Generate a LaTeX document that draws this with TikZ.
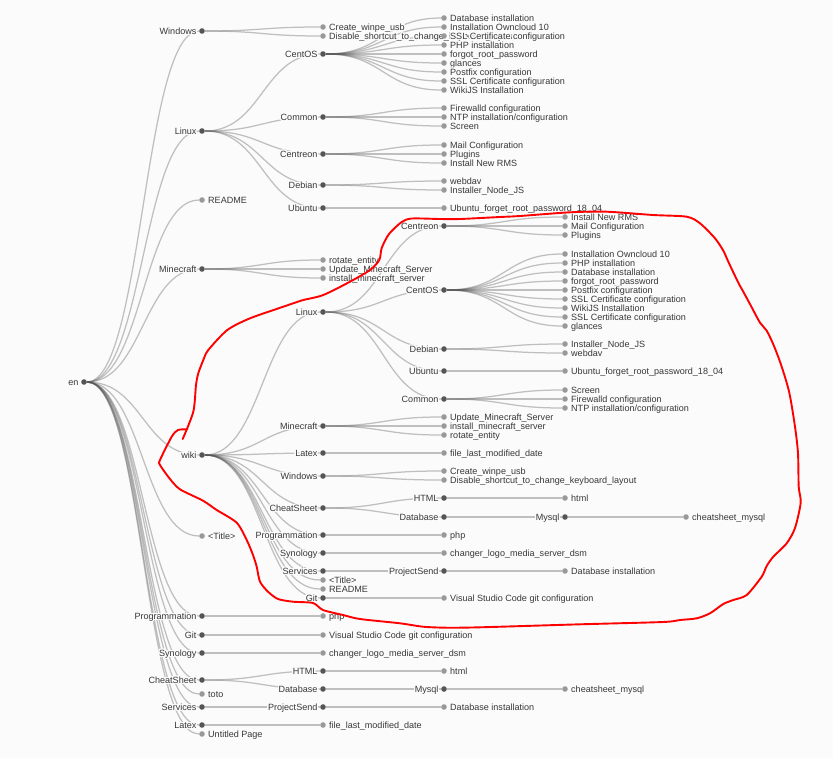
\documentclass[tikz,border=0pt]{standalone}
\usepackage{fontspec}
\usepackage[copies]{contour}
\usetikzlibrary{calc}
\setmainfont{Liberation Sans}
\contourlength{1.4pt}
\contournumber{16}
\definecolor{paper}{HTML}{FBFBFB}
\definecolor{inner}{HTML}{555555}
\definecolor{outer}{HTML}{999999}
\pgfdeclarelayer{paperlayer}
\pgfdeclarelayer{links}
\pgfsetlayers{paperlayer,links,main}
\tikzstyle{vertex}=[circle,minimum size=5.6pt,inner sep=0pt]
\tikzstyle{parent vertex}=[vertex,fill=inner]
\tikzstyle{leaf vertex}=[vertex,fill=outer]
\tikzstyle{caption}=[inner sep=0pt,text=black!78,font=\fontsize{9.05}{9}\selectfont,text height=8.9pt,text depth=2pt]
\tikzstyle{parent label}=[caption,left=5.4pt]
\tikzstyle{leaf label}=[caption,right=6pt]
\tikzstyle{link}=[draw=inner,draw opacity=0.36,line width=1.25pt,
  to path={let \p1=(\tikztostart),\p2=(\tikztotarget) in
    .. controls ({0.5*(\x1+\x2)},\y1) and ({0.5*(\x1+\x2)},\y2) .. (\tikztotarget)}]
\tikzstyle{scribble}=[draw=red,line width=1.9pt,line join=round,line cap=round]

\begin{document}
\begin{tikzpicture}[x=1pt,y=-1pt]
      \begin{pgfonlayer}{paperlayer}
        \fill[paper] (0,0) rectangle (833,758);
      \end{pgfonlayer}
      \useasboundingbox (0,0) rectangle (833,758);
      %nodes
      \foreach \nodename/\x/\y/\kind/\caption in {
        en/84/382/parent/en,
        winA/202/31/parent/Windows,
        winAa/323/27/leaf/Create\_winpe\_usb,
        winAb/323/36/leaf/Disable\_shortcut\_to\_change\_keyboard\_layout,
        linA/202/131/parent/Linux,
        cenA/323/54/parent/CentOS,
        cenAa/444/18/leaf/Database installation,
        cenAb/444/27/leaf/Installation Owncloud 10,
        cenAc/444/36/leaf/SSL Certificate configuration,
        cenAd/444/45/leaf/PHP installation,
        cenAe/444/54/leaf/forgot\_root\_password,
        cenAf/444/63/leaf/glances,
        cenAg/444/72/leaf/Postfix configuration,
        cenAh/444/81/leaf/SSL Certificate configuration,
        cenAi/444/90/leaf/WikiJS Installation,
        comA/323/117/parent/Common,
        comAa/444/108/leaf/Firewalld configuration,
        comAb/444/117/leaf/{NTP installation/configuration},
        comAc/444/126/leaf/Screen,
        ctrA/323/154/parent/Centreon,
        ctrAa/444/145/leaf/Mail Configuration,
        ctrAb/444/154/leaf/Plugins,
        ctrAc/444/163/leaf/Install New RMS,
        debA/323/185/parent/Debian,
        debAa/444/181/leaf/webdav,
        debAb/444/190/leaf/Installer\_Node\_JS,
        ubuA/323/208/parent/Ubuntu,
        ubuAa/444/208/leaf/Ubuntu\_forget\_root\_password\_18\_04,
        readA/202/200/leaf/README,
        minA/202/269/parent/Minecraft,
        minAa/323/260/leaf/rotate\_entity,
        minAb/323/269/leaf/Update\_Minecraft\_Server,
        minAc/323/278/leaf/install\_minecraft\_server,
        wiki/202/455/parent/wiki,
        linB/323/312/parent/Linux,
        ctrB/444/226/parent/Centreon,
        ctrBa/565/217/leaf/Install New RMS,
        ctrBb/565/226/leaf/Mail Configuration,
        ctrBc/565/235/leaf/Plugins,
        cenB/444/290/parent/CentOS,
        cenBa/565/254/leaf/Installation Owncloud 10,
        cenBb/565/263/leaf/PHP installation,
        cenBc/565/272/leaf/Database installation,
        cenBd/565/281/leaf/forgot\_root\_password,
        cenBe/565/290/leaf/Postfix configuration,
        cenBf/565/299/leaf/SSL Certificate configuration,
        cenBg/565/308/leaf/WikiJS Installation,
        cenBh/565/317/leaf/SSL Certificate configuration,
        cenBi/565/326/leaf/glances,
        debB/444/349/parent/Debian,
        debBa/565/344/leaf/Installer\_Node\_JS,
        debBb/565/353/leaf/webdav,
        ubuB/444/371/parent/Ubuntu,
        ubuBa/565/371/leaf/Ubuntu\_forget\_root\_password\_18\_04,
        comB/444/399/parent/Common,
        comBa/565/390/leaf/Screen,
        comBb/565/399/leaf/Firewalld configuration,
        comBc/565/408/leaf/{NTP installation/configuration},
        minB/323/426/parent/Minecraft,
        minBa/444/417/leaf/Update\_Minecraft\_Server,
        minBb/444/426/leaf/install\_minecraft\_server,
        minBc/444/435/leaf/rotate\_entity,
        latB/323/453/parent/Latex,
        latBa/444/453/leaf/file\_last\_modified\_date,
        winB/323/476/parent/Windows,
        winBa/444/471/leaf/Create\_winpe\_usb,
        winBb/444/480/leaf/Disable\_shortcut\_to\_change\_keyboard\_layout,
        cheB/323/508/parent/CheatSheet,
        htmB/444/498/parent/HTML,
        htmBa/565/498/leaf/html,
        datB/444/517/parent/Database,
        mysB/565/517/parent/Mysql,
        mysBa/686/517/leaf/cheatsheet\_mysql,
        proB/323/535/parent/Programmation,
        proBa/444/535/leaf/php,
        synB/323/553/parent/Synology,
        synBa/444/553/leaf/changer\_logo\_media\_server\_dsm,
        serB/323/571/parent/Services,
        prsB/444/571/parent/ProjectSend,
        prsBa/565/571/leaf/Database installation,
        titB/323/580/leaf/<Title>,
        reaB/323/589/leaf/README,
        gitB/323/598/parent/Git,
        gitBa/444/598/leaf/Visual Studio Code git configuration,
        titA/202/536/leaf/<Title>,
        proA/202/616/parent/Programmation,
        proAa/323/616/leaf/php,
        gitA/202/635/parent/Git,
        gitAa/323/635/leaf/Visual Studio Code git configuration,
        synA/202/653/parent/Synology,
        synAa/323/653/leaf/changer\_logo\_media\_server\_dsm,
        cheA/202/680/parent/CheatSheet,
        htmA/323/671/parent/HTML,
        htmAa/444/671/leaf/html,
        datA/323/689/parent/Database,
        mysA/444/689/parent/Mysql,
        mysAa/565/689/leaf/cheatsheet\_mysql,
        totA/202/694/leaf/toto,
        serA/202/707/parent/Services,
        prsA/323/707/parent/ProjectSend,
        prsAa/444/707/leaf/Database installation,
        latA/202/725/parent/Latex,
        latAa/323/725/leaf/file\_last\_modified\_date,
        untA/202/734/leaf/Untitled Page}
      {
        \node[\kind\space vertex] (\nodename) at (\x,\y) {};
        \node[\kind\space label] (\nodename-text) at (\nodename) {\contour{paper}{\caption}};
      };
      %edges
      \begin{pgfonlayer}{links}
      \path
      \foreach \startnode/\endnode in {
        en/winA, en/linA, en/readA, en/minA, en/wiki, en/titA, en/proA, en/gitA, en/synA, en/cheA, en/totA, en/serA, en/latA, en/untA,
        winA/winAa, winA/winAb,
        linA/cenA, linA/comA, linA/ctrA, linA/debA, linA/ubuA,
        cenA/cenAa, cenA/cenAb, cenA/cenAc, cenA/cenAd, cenA/cenAe, cenA/cenAf, cenA/cenAg, cenA/cenAh, cenA/cenAi,
        comA/comAa, comA/comAb, comA/comAc,
        ctrA/ctrAa, ctrA/ctrAb, ctrA/ctrAc,
        debA/debAa, debA/debAb, ubuA/ubuAa,
        minA/minAa, minA/minAb, minA/minAc,
        wiki/linB, wiki/minB, wiki/latB, wiki/winB, wiki/cheB, wiki/proB, wiki/synB, wiki/serB, wiki/titB, wiki/reaB, wiki/gitB,
        linB/ctrB, linB/cenB, linB/debB, linB/ubuB, linB/comB,
        ctrB/ctrBa, ctrB/ctrBb, ctrB/ctrBc,
        cenB/cenBa, cenB/cenBb, cenB/cenBc, cenB/cenBd, cenB/cenBe, cenB/cenBf, cenB/cenBg, cenB/cenBh, cenB/cenBi,
        debB/debBa, debB/debBb, ubuB/ubuBa,
        comB/comBa, comB/comBb, comB/comBc,
        minB/minBa, minB/minBb, minB/minBc,
        latB/latBa, winB/winBa, winB/winBb,
        cheB/htmB, cheB/datB, htmB/htmBa, datB/mysB, mysB/mysBa,
        proB/proBa, synB/synBa, serB/prsB, prsB/prsBa, gitB/gitBa,
        proA/proAa, gitA/gitAa, synA/synAa,
        cheA/htmA, cheA/datA, htmA/htmAa, datA/mysA, mysA/mysAa,
        serA/prsA, prsA/prsAa, latA/latAa}
      {
        (\startnode) edge[link] (\endnode)
      };
      \end{pgfonlayer}
      %freehand outline
      \draw[scribble] plot[smooth,tension=0.45] coordinates {
        (182.7,439) (193.3,411.7) (196,385) (198.3,373.3) (203.3,360) (208.3,350)
        (227.3,330) (250,318.3) (283.3,306.7) (295,302.7) (303.3,300) (323.3,295) (350,281.7)
        (370,270) (379.3,260) (381.7,248) (389,234) (401.7,222) (412,218.5) (440,219) (460,219)
        (500,217) (520,216) (570,212.3) (606.7,211.7) (653,215) (686.7,216.7) (700,223.3)
        (715,238.3) (723.3,250.7) (728.3,261.7) (738.3,282.7) (743.3,291.7) (751.7,307.3)
        (760,322.7) (766.7,330.7) (774,346) (781.7,366.7) (789.3,392.7) (795,426.7) (798,453.3)
        (798.7,486.7) (800.7,502.7) (795,528) (786.7,543.3) (773.3,556.7)
        (766.7,566) (761.7,576.7) (746.7,595) (733.3,600) (723.3,604) (710,613.3) (696.7,618.3)
        (680,620) (663,622) (580,624.3) (480,627.3) (446.7,627.7) (423,626.7) (400,623.3) (360,619)
        (343,615) (323,610) (313,603) (293,601.7) (278,599) (268,591.7) (260,581.7) (256.7,566.7)
        (253,555) (246.7,540) (236.7,522.7) (216.7,510) (203,500.7) (180,489.3) (170,479)
        (160,465) (160,460) (171.7,436.7) (178,430) (187.3,429.3)};
\end{tikzpicture}
\end{document}
